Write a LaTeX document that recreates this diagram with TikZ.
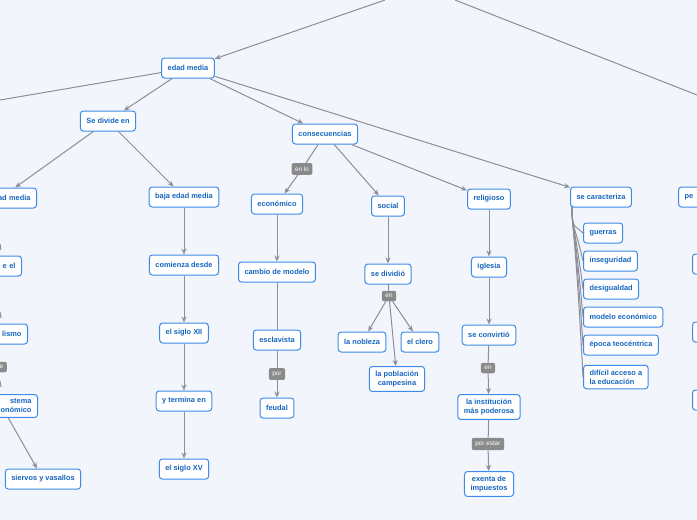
\documentclass[tikz,border=0pt]{standalone}
\usepackage{fontspec}
\setmainfont{Liberation Sans}
\usetikzlibrary{arrows.meta}
\definecolor{bg}{HTML}{F2F5FC}
\definecolor{bl}{HTML}{3D8BE8}
\definecolor{tx}{HTML}{1565C0}
\definecolor{ln}{HTML}{8C8E98}
\definecolor{lb}{HTML}{8A8A8A}
\begin{document}
\begin{tikzpicture}[x=1pt,y=-1pt,
 box/.style={draw=bl,fill=white,rounded corners=3pt,line width=1pt,text=tx,font=\bfseries\fontsize{7.4}{9}\selectfont,inner xsep=6pt,inner ysep=4.5pt,align=center,minimum height=20pt},
 lab/.style={fill=lb,rounded corners=2pt,text=white,font=\fontsize{6.4}{7.5}\selectfont,inner sep=3.5pt},
 ar/.style={draw=ln,line width=1pt,-{Stealth[length=6pt,width=5pt]}},
 pl/.style={draw=ln,line width=1pt}]
\fill[bg] (0,0) rectangle (697,520);
\clip (0,0) rectangle (697,520);
\node[box] (em) at (188,68) {edad media};
\node[box] (sd) at (108,121) {Se divide en};
\node[box] (co) at (325,134) {consecuencias};
\node[box,anchor=east,text width=60pt,align=right] (am) at (37,198) {alta edad media};
\node[box,anchor=east,text width=50pt,align=right] (ee) at (22,266) {e el};
\node[box,anchor=east,text width=50pt,align=right] (li) at (28,334) {lismo};
\node[box,anchor=east,text width=60pt,align=right] (st) at (38,406) {stema\\onómico};
\node[lab,anchor=east,text width=20pt,align=right] (le) at (7,367) {e};
\node[box] (sv) at (43,479) {siervos y vasallos};
\node[box] (bm) at (184,197) {baja edad media};
\node[box] (cd) at (184,265) {comienza desde};
\node[box] (s12) at (184,333) {el siglo XII};
\node[box] (te) at (184,401) {y termina en};
\node[box] (s15) at (184,469) {el siglo XV};
\node[box] (ec) at (277,204) {económico};
\node[box] (cm) at (277,272) {cambio de modelo};
\node[box] (es) at (277,340) {esclavista};
\node[box] (fe) at (277,408) {feudal};
\node[box] (so) at (388,206) {social};
\node[box] (sdv) at (388,274) {se dividió};
\node[box] (no) at (362,342) {la nobleza};
\node[box] (cl) at (420,342) {el clero};
\node[box] (pc) at (397,379) {la población\\campesina};
\node[box] (re) at (489,199) {religioso};
\node[box] (ig) at (489,267) {iglesia};
\node[box] (sc) at (489,335) {se convirtió};
\node[box] (in) at (489,407) {la institución\\más poderosa};
\node[box] (ex) at (489,484) {exenta de\\impuestos};
\node[box] (ca) at (601,197) {se caracteriza};
\node[box,anchor=west] (g1) at (583,233) {guerras};
\node[box,anchor=west] (g2) at (583,261) {inseguridad};
\node[box,anchor=west] (g3) at (583,289) {desigualdad};
\node[box,anchor=west] (g4) at (583,317) {modelo económico};
\node[box,anchor=west] (g5) at (583,345) {época teocéntrica};
\node[box,anchor=west,align=left] (g6) at (583,377) {difícil acceso a\\la educación};
\node[box,anchor=west,text width=40pt,align=left] (pe) at (678,197) {pe};
\node[box,anchor=west,minimum width=30pt] (r1) at (692,264) {};
\node[box,anchor=west,minimum width=30pt] (r2) at (692,332) {};
\node[box,anchor=west,minimum width=30pt] (r3) at (692,400) {};
\node[lab] (l1) at (302,169) {en lo};
\node[lab] (l2) at (389,296) {en};
\node[lab] (l3) at (277,374) {por};
\node[lab] (l4) at (488,368) {en};
\node[lab] (l5) at (488,444) {por estar};
\coordinate (t1) at (385,0); \coordinate (t2) at (455,0);
\coordinate (t3) at (697,95); \coordinate (t4) at (0,100);
\draw[ar] (t1) -- (em);
\draw[pl] (t2) -- (t3);
\draw[pl] (em) -- (t4);
\draw[ar] (em) -- (sd);
\draw[ar] (em) -- (co);
\draw[ar] (em) -- (ca);
\draw[ar] (sd) -- (am);
\draw[ar] (sd) -- (bm);
\draw[ar] (bm) -- (cd); \draw[ar] (cd) -- (s12); \draw[ar] (s12) -- (te); \draw[ar] (te) -- (s15);
\draw[ar] (st) -- (sv);
\draw[pl] (co) -- (l1); \draw[ar] (l1) -- (ec);
\draw[ar] (co) -- (so); \draw[ar] (co) -- (re);
\draw[ar] (ec) -- (cm); \draw[pl] (cm) -- (es); \draw[pl] (es) -- (l3); \draw[ar] (l3) -- (fe);
\draw[ar] (so) -- (sdv); \draw[pl] (sdv) -- (l2);
\draw[ar] (l2) -- (no); \draw[ar] (l2) -- (cl); \draw[ar] (l2) -- (pc);
\draw[ar] (re) -- (ig); \draw[ar] (ig) -- (sc); \draw[pl] (sc) -- (l4); \draw[ar] (l4) -- (in);
\draw[pl] (in) -- (l5); \draw[ar] (l5) -- (ex);
\foreach \g in {g1,g2,g3,g4,g5,g6}
  \draw[pl] (572,207) .. controls (572,230) and (575,225) .. (\g.west);
\foreach \y in {250,318,387} \draw[pl] (0,\y-6) -- (1,\y);
\end{tikzpicture}
\end{document}
